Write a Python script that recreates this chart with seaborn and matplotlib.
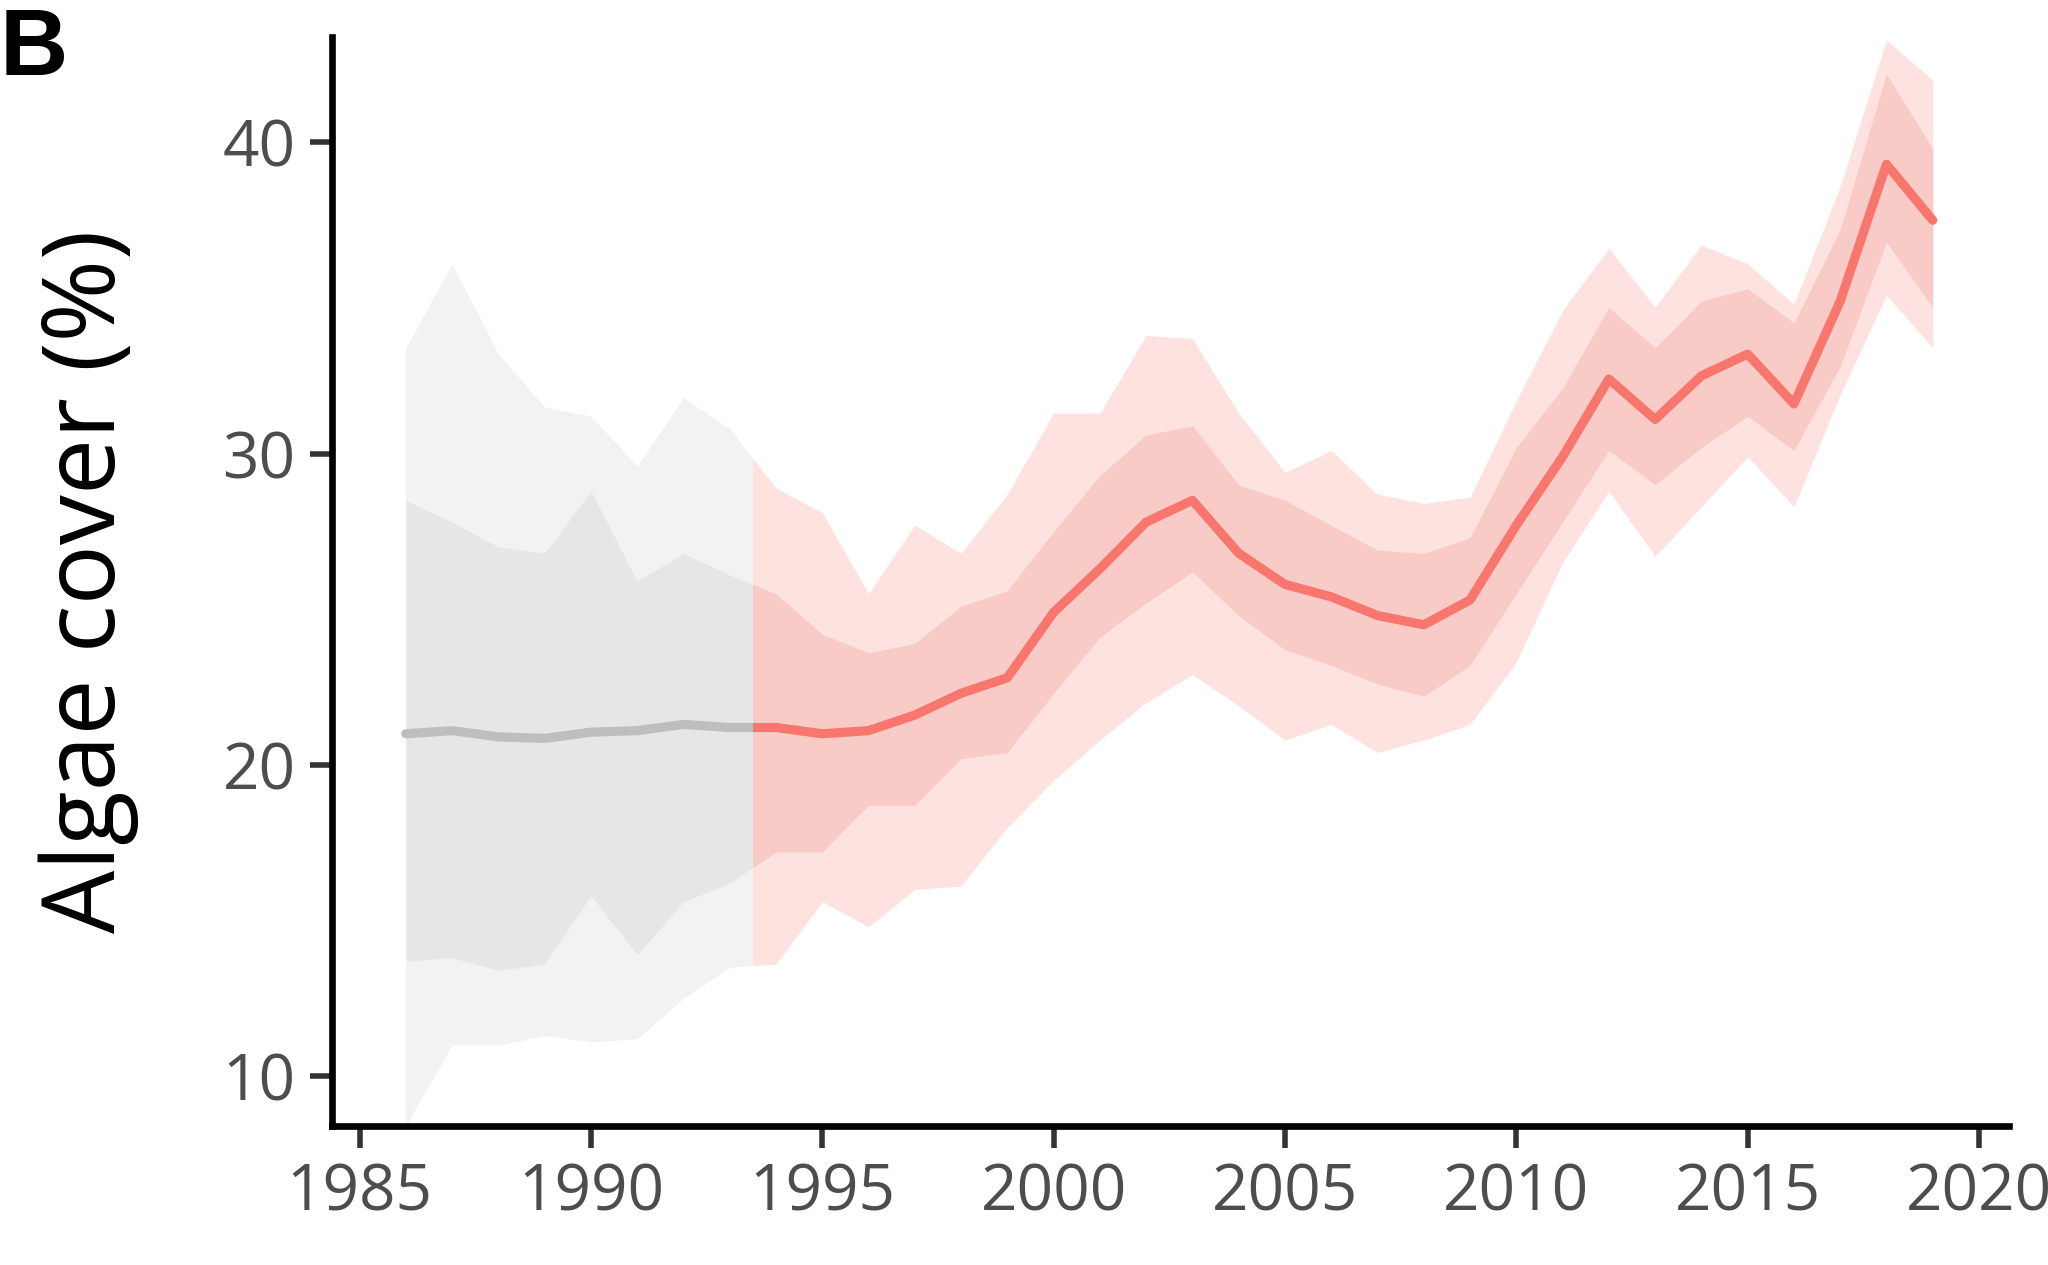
import numpy as np
import pandas as pd
import matplotlib
matplotlib.use('Agg')
import matplotlib.pyplot as plt
import seaborn as sns
from matplotlib.patches import Rectangle

# datos
years = list(range(1986, 2020))

mean_cover = [21.0, 21.1, 20.9, 20.85, 21.05, 21.1, 21.3, 21.2, 21.2, 21.0,
              21.1, 21.6, 22.3, 22.8, 24.9, 26.3, 27.8, 28.5, 26.8, 25.8,
              25.4, 24.8, 24.5, 25.3, 27.7, 29.9, 32.4, 31.1, 32.5, 33.2,
              31.6, 34.9, 39.3, 37.5]

inner_hi = [28.5, 27.8, 27.0, 26.8, 28.8, 25.9, 26.8, 26.1, 25.5, 24.2,
            23.6, 23.9, 25.1, 25.6, 27.5, 29.3, 30.6, 30.9, 29.0, 28.5,
            27.7, 26.9, 26.8, 27.3, 30.2, 32.1, 34.7, 33.4, 34.9, 35.3,
            34.2, 37.2, 42.2, 39.8]

inner_lo = [13.7, 13.8, 13.4, 13.6, 15.8, 13.9, 15.6, 16.2, 17.2, 17.2,
            18.7, 18.7, 20.2, 20.4, 22.3, 24.1, 25.2, 26.2, 24.8, 23.7,
            23.2, 22.6, 22.2, 23.2, 25.5, 27.8, 30.1, 29.0, 30.2, 31.2,
            30.1, 32.8, 36.8, 34.7]

outer_hi = [33.4, 36.1, 33.2, 31.5, 31.2, 29.6, 31.8, 30.8, 28.9, 28.1,
            25.5, 27.7, 26.8, 28.7, 31.3, 31.3, 33.8, 33.7, 31.3, 29.4,
            30.1, 28.7, 28.4, 28.6, 31.7, 34.6, 36.6, 34.7, 36.7, 36.1,
            34.8, 38.6, 43.3, 42.0]

outer_lo = [8.4, 11.0, 11.0, 11.3, 11.1, 11.2, 12.5, 13.5, 13.6, 15.6,
            14.8, 16.0, 16.1, 18.0, 19.5, 20.8, 22.0, 22.9, 21.9, 20.8,
            21.3, 20.4, 20.8, 21.3, 23.3, 26.5, 28.8, 26.7, 28.3, 29.9,
            28.3, 31.9, 35.1, 33.4]

split_year = 1993.5

df = pd.DataFrame({'year': years, 'mean': mean_cover,
                   'ilo': inner_lo, 'ihi': inner_hi,
                   'olo': outer_lo, 'ohi': outer_hi})

sns.set_style('white')
plt.rcParams['font.family'] = ['Open Sans', 'DejaVu Sans']

fig = plt.figure(figsize=(10.24, 6.325), dpi=200)
ax = fig.add_axes([0.162, 0.110, 0.819, 0.861])

# gris (antes) y rojo (despues)
estilos = [
    ((1980, -100), split_year - 1980, '#f2f2f2', '#e6e6e6', '#bebebe'),
    ((split_year, -100), 2030 - split_year, '#fde2e0', '#f9cbc7', '#f8766d'),
]

for xy, w, c_out, c_in, c_line in estilos:
    clip = Rectangle(xy, w, 300, transform=ax.transData)
    a = ax.fill_between(df['year'], df['olo'], df['ohi'], color=c_out, lw=0)
    a.set_clip_path(clip)
    b = ax.fill_between(df['year'], df['ilo'], df['ihi'], color=c_in, lw=0)
    b.set_clip_path(clip)

for xy, w, c_out, c_in, c_line in estilos:
    clip = Rectangle(xy, w, 300, transform=ax.transData)
    sns.lineplot(data=df, x='year', y='mean', color=c_line, lw=3.3, ax=ax,
                 solid_capstyle='round')
    ax.lines[-1].set_clip_path(clip)

ax.set_xlim(1984.4, 2020.65)
ax.set_ylim(8.4, 43.4)
ax.set_xticks(range(1985, 2021, 5))
ax.set_yticks([10, 20, 30, 40])

sns.despine(ax=ax)
for s in ['left', 'bottom']:
    ax.spines[s].set_linewidth(2.4)
    ax.spines[s].set_color('black')

ax.tick_params(axis='both', bottom=True, left=True, length=8, width=2.0,
               color='#333333', labelsize=23, labelcolor='#4d4d4d', pad=5)

ax.set_xlabel('')
ax.set_ylabel('Algae cover (%)', fontsize=36, color='black', labelpad=30)

fig.text(0.0, 0.995, 'B', fontsize=34, fontweight='bold', color='black',
         family='Liberation Sans', ha='left', va='top')

fig.savefig('out.png', dpi=200)
